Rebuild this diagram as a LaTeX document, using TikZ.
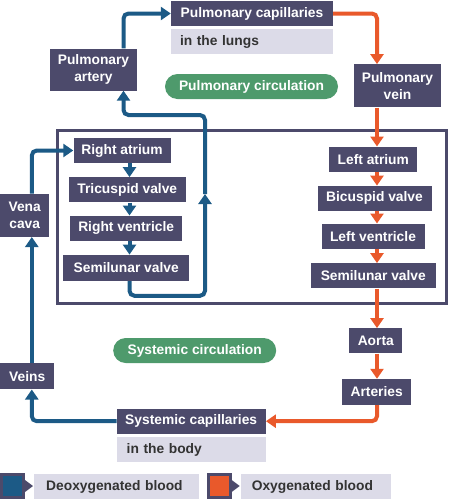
\documentclass[tikz,border=0pt]{standalone}
\usepackage{fontspec}
\setmainfont{Liberation Sans}
\usepackage{xcolor}
\usetikzlibrary{arrows.meta,calc}

\definecolor{slate}{HTML}{4C4A6B}
\definecolor{deoxblue}{HTML}{1C5A86}
\definecolor{oxorange}{HTML}{E9592B}
\definecolor{circgreen}{HTML}{4E9A6C}
\definecolor{lilac}{HTML}{DCDBE8}
\definecolor{inktext}{HTML}{333333}

\newcommand{\lbl}{\bfseries\fontsize{13.8}{17}\selectfont}

\tikzset{
  organ/.style={fill=slate, text=white, align=center, inner sep=0pt,
                font=\lbl, minimum height=25pt},
  note/.style={fill=lilac, text=inktext, align=left, inner ysep=0pt,
               font=\lbl, minimum height=25pt},
  pill/.style={fill=circgreen, text=white, rounded corners=12.5pt,
               inner sep=0pt, font=\lbl, minimum height=25pt},
  heartbox/.style={draw=slate, line width=3pt},
  key/.style={draw=slate, line width=3pt, minimum width=22pt,
              minimum height=23pt, inner sep=0pt},
  deoxy/.style={draw=deoxblue, line width=4pt, rounded corners=5pt,
                -{Triangle[width=13pt,length=10pt]}},
  oxy/.style={draw=oxorange, line width=4pt, rounded corners=5pt,
              -{Triangle[width=13pt,length=10pt]}}
}

\begin{document}
\begin{tikzpicture}[x=1pt,y=-1pt]
  \useasboundingbox (0,0) rectangle (464,499);
  \node[heartbox, minimum width=389pt, minimum height=173pt] (heart) at (252,217) {};

  % lungs
  \node[organ, minimum width=162pt] (pc) at (252,13.5) {Pulmonary capillaries};
  \node[note, text width=144pt, inner xsep=9pt] (lungs) at (252,41.5) {in the lungs};
  \node[organ, minimum width=87pt, minimum height=42pt] (pa) at (93.5,69.5) {Pulmonary\\artery};
  \node[pill, minimum width=173pt] (pcirc) at (251.5,86.5) {Pulmonary circulation};
  \node[organ, minimum width=87pt, minimum height=43pt] (pv) at (397.5,85.8) {Pulmonary\\vein};

  % heart
  \node[organ, minimum width=97pt] (ra) at (122,150.5) {Right atrium};
  \node[organ, minimum width=117pt] (tv) at (127.3,189.8) {Tricuspid valve};
  \node[organ, minimum width=112pt] (rv) at (126.2,228.2) {Right ventricle};
  \node[organ, minimum width=126pt, minimum height=26pt] (svr) at (126.2,267.8) {Semilunar valve};
  \node[organ, minimum width=88pt] (la) at (373.3,159.2) {Left atrium};
  \node[organ, minimum width=114pt] (bv) at (374.5,198.3) {Bicuspid valve};
  \node[organ, minimum width=103pt] (lv) at (373,236.2) {Left ventricle};
  \node[organ, minimum width=125pt] (svl) at (373.3,275.8) {Semilunar valve};

  % body
  \node[organ, minimum width=49pt, minimum height=43pt] (vc) at (24.7,215.3) {Vena\\cava};
  \node[organ, minimum width=53pt] (ao) at (375.8,340.8) {Aorta};
  \node[pill, minimum width=163pt] (scirc) at (194.7,350.5) {Systemic circulation};
  \node[organ, minimum width=69pt, minimum height=26pt] (ar) at (376.7,392) {Arteries};
  \node[organ, minimum width=54pt, minimum height=26pt] (veins) at (27.2,376.3) {Veins};
  \node[organ, minimum width=149pt] (sc) at (191.2,421.2) {Systemic capillaries};
  \node[note, text width=129pt, inner xsep=10pt] (body) at (191.2,449.8) {in the body};

  % legend
  \node[key, fill=deoxblue] (keyd) at (12.5,486) {};
  \fill[slate] ([yshift=6pt]keyd.east) -- ++(8,6) -- ([yshift=-6pt]keyd.east) -- cycle;
  \node[note, text width=141pt, inner xsep=12pt] (txtd) at (116.7,486.5) {Deoxygenated blood};
  \node[key, fill=oxorange] (keyo) at (219.2,486) {};
  \fill[slate] ([yshift=6pt]keyo.east) -- ++(8,6) -- ([yshift=-6pt]keyo.east) -- cycle;
  \node[note, text width=128pt, inner xsep=11pt] (txto) at (315.8,486.5) {Oxygenated blood};

  % columns and bends
  \coordinate (colpa) at (123.5,0);
  \coordinate (colr) at (129.5,0);
  \coordinate (colv) at (31.8,0);
  \coordinate (colo) at (377,0);
  \coordinate (loop) at (205,295.8);
  \coordinate (mid) at (205,194);
  \coordinate (jog) at (205,115);

  % oxygenated side
  \draw[oxy] (pc.east) -| (colo |- pv.north);
  \draw[oxy] (colo |- pv.south) -- (colo |- la.north);
  \draw[oxy] (colo |- la.south) -- (colo |- bv.north);
  \draw[oxy] (colo |- bv.south) -- (colo |- lv.north);
  \draw[oxy] (colo |- lv.south) -- (colo |- svl.north);
  \draw[oxy] (colo |- svl.south) -- (colo |- ao.north);
  \draw[oxy] (colo |- ao.south) -- (colo |- ar.north);
  \draw[oxy] (colo |- ar.south) |- (sc.east);

  % deoxygenated side
  \draw[deoxy] (sc.west) -| (colv |- veins.south);
  \draw[deoxy] (colv |- veins.north) -- (colv |- vc.south);
  \draw[deoxy] (colv |- vc.north) |- (ra.west);
  \draw[deoxy] (colr |- ra.south) -- (colr |- tv.north);
  \draw[deoxy] (colr |- tv.south) -- (colr |- rv.north);
  \draw[deoxy] (colr |- rv.south) -- (colr |- svr.north);
  \draw[deoxy] (colr |- svr.south) |- (loop) -- (mid);
  \draw[deoxy] (mid) -- (jog) -| (colpa |- pa.south);
  \draw[deoxy] (colpa |- pa.north) |- (pc.west);
\end{tikzpicture}
\end{document}
